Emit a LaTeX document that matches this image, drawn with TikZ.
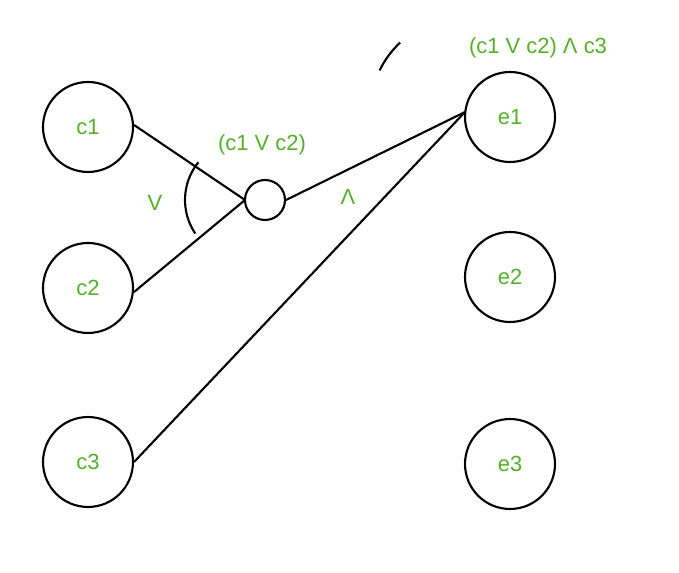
\documentclass[tikz,border=0pt]{standalone}
\usepackage{fontspec}
\setmainfont{Liberation Sans}
\begin{document}
\begin{tikzpicture}[x=0.02cm,y=-0.02cm,line width=1.2pt,
  big/.style={draw,circle,minimum size=1.8cm,inner sep=0pt,text=lbl,font=\fontsize{12.5}{14}\selectfont},
  lab/.style={text=lbl,font=\fontsize{12.5}{14}\selectfont}]
\definecolor{lbl}{RGB}{84,176,40}
\useasboundingbox (0,0) rectangle (679,573);
\node[big] (c1) at (88,127) {c1};
\node[big] (c2) at (88,288) {c2};
\node[big] (c3) at (88,462) {c3};
\node[big] (e1) at (510,117) {e1};
\node[big] (e2) at (510,277) {e2};
\node[big] (e3) at (510,464) {e3};
\node[draw,circle,minimum size=0.8cm,inner sep=0pt] (m) at (265,200) {};
\coordinate (p) at (245,200);
\coordinate (q) at (465,112);
\draw (c1.east) ++(0,-2) -- (p);
\draw (c2.east) ++(0,4) -- (p);
\draw (m.east) -- (q);
\draw (c3.east) -- (q);
\draw (p) ++(146:60) arc[start angle=146,end angle=219,radius=60];
\draw (q) ++(206:95) arc[start angle=206,end angle=227,radius=95];
\node[lab] (l1) at (262,145) {(c1 V c2)};
\node[lab] (l2) at (155,203) {V};
\node[lab] (l3) at (348,197) {Λ};
\node[lab] (l4) at (538,48) {(c1 V c2) Λ c3};
\end{tikzpicture}
\end{document}
